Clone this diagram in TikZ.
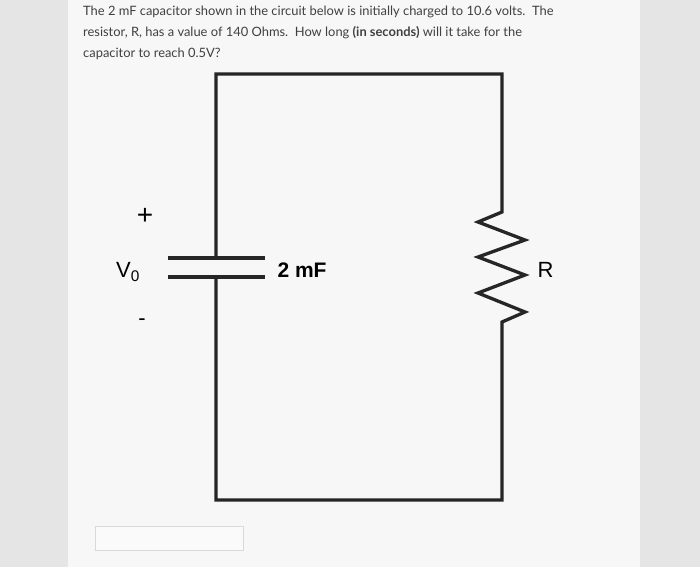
\documentclass[tikz,border=0pt]{standalone}
\usepackage{fontspec}
\setmainfont{Lato}
\setsansfont{Liberation Sans}
\begin{document}
\begin{tikzpicture}[x=1pt,y=-1pt,wire/.style={line width=3.3pt,color=black!85}]
\useasboundingbox (0,0) rectangle (700,567);
\fill[black!10] (0,0) rectangle (700,567);
\fill[black!3] (68,0) rectangle (640,567);
\node[anchor=north west,inner sep=0,align=left,text=black!75,font=\fontsize{12.9}{21}\selectfont] (q) at (83,6)
{The 2 mF capacitor shown in the circuit below is initially charged to 10.6 volts.\ \ The\\
resistor, R, has a value of 140 Ohms.\ \ How long \textbf{(in seconds)} will it take for the\\
capacitor to reach 0.5V?};
\coordinate (tl) at (216,74); \coordinate (tr) at (502,74);
\coordinate (bl) at (216,500); \coordinate (br) at (502,500);
\coordinate (c1) at (216,258); \coordinate (c2) at (216,277);
\coordinate (r1) at (502,212); \coordinate (r2) at (502,322);
\draw[wire] (c1) -- (tl) -- (tr) -- (r1) -- (478,222) -- (525,240) -- (478,257) -- (525,275) -- (478,293) -- (525,312) -- (r2) -- (br) -- (bl) -- (c2);
\draw[wire] (168,258) -- (265,258);
\draw[wire] (168,277) -- (265,277);
\node[font=\sffamily\bfseries\fontsize{21}{21}\selectfont,anchor=west] (cap) at (274,270) {2 mF};
\node[font=\sffamily\fontsize{22}{22}\selectfont,anchor=west] (R) at (534,270) {R};
\node[font=\sffamily\fontsize{22}{22}\selectfont] (vo) at (128,272) {V\textsubscript{0}};
\node[font=\sffamily\fontsize{28}{28}\selectfont] (plus) at (145,216) {+};
\node[font=\sffamily\fontsize{22}{22}\selectfont] (minus) at (142,322) {-};
\draw[black!15,fill=black!2] (95,526) rectangle (243,550);
\end{tikzpicture}
\end{document}
